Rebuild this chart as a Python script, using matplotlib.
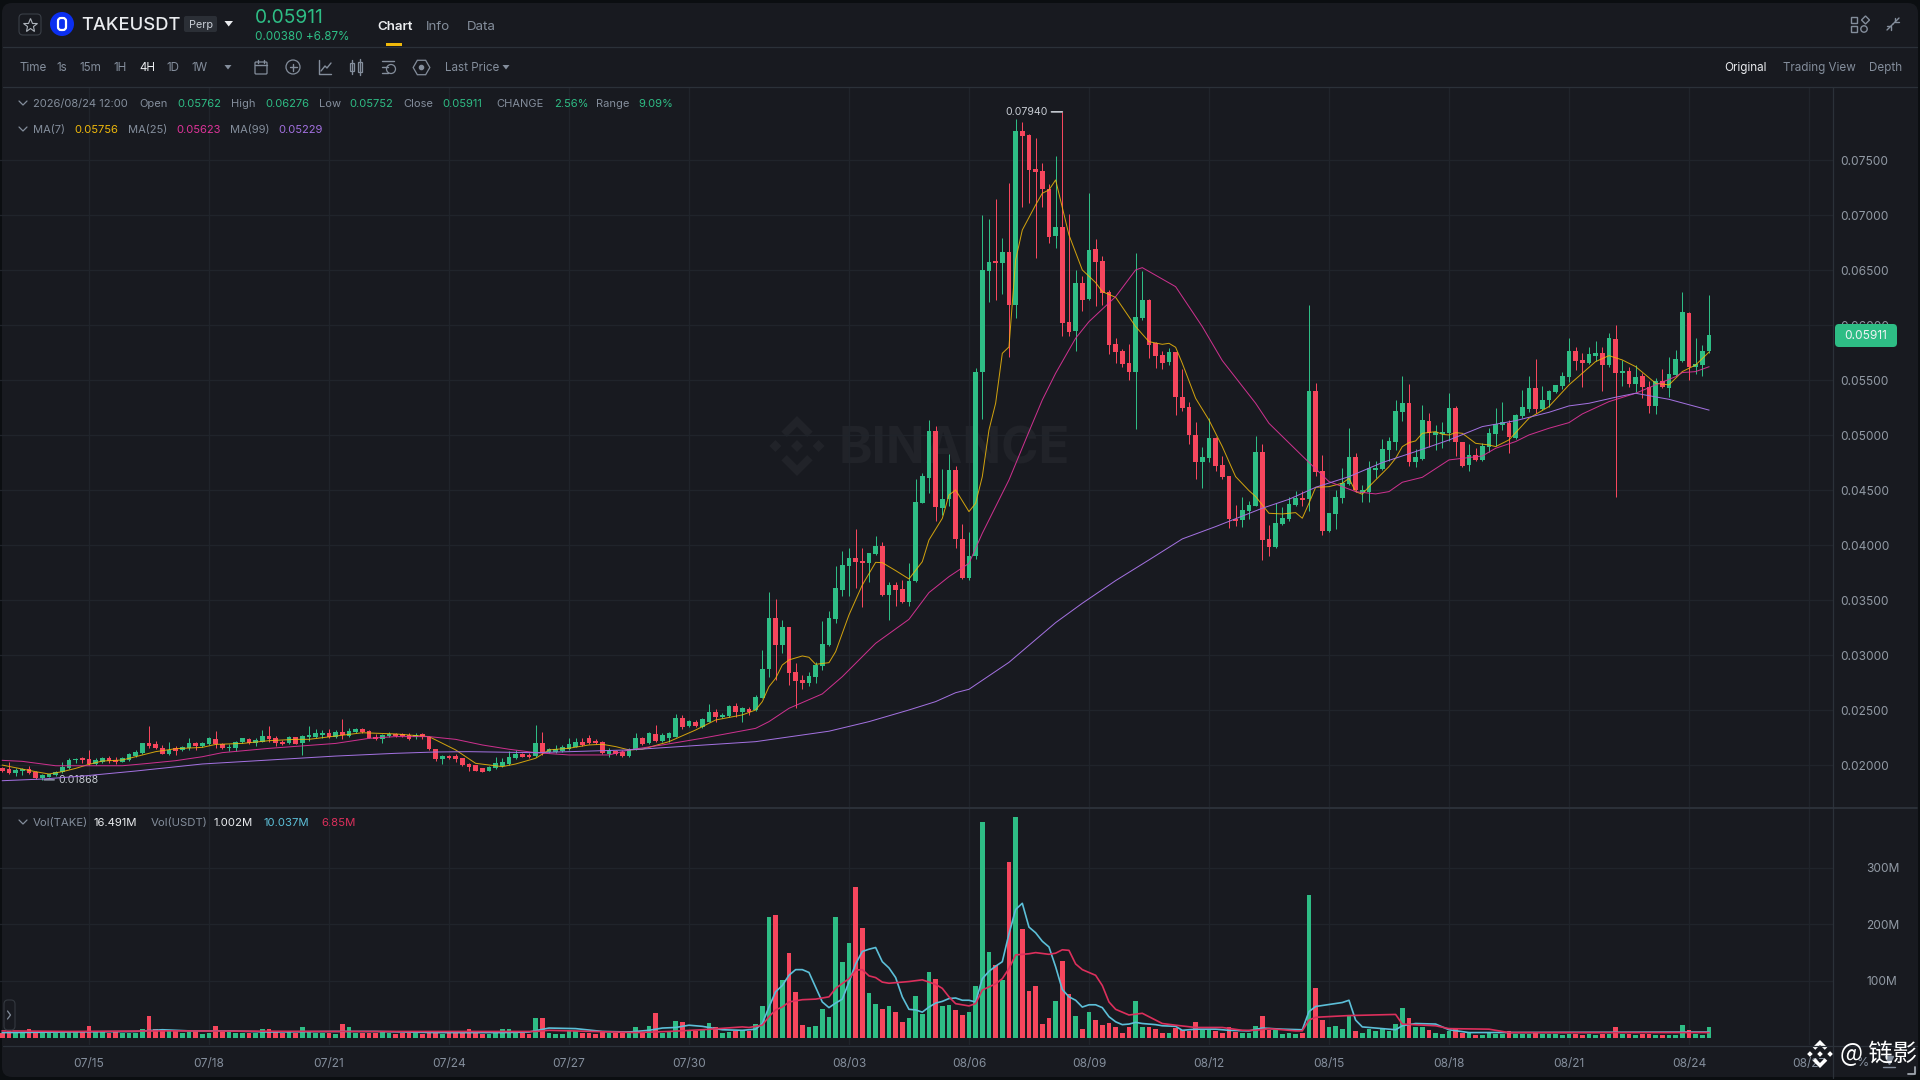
import matplotlib
matplotlib.use('Agg')
import matplotlib.pyplot as plt
import numpy as np
from matplotlib.patches import FancyBboxPatch, Polygon, Circle, Rectangle

plt.rcParams['font.family'] = ['Inter', 'Noto Sans CJK SC', 'DejaVu Sans']

# prices in 1e-5 USDT, one row per 10 candles (4H)
opens = [
    1972, 1963, 1927, 1948, 1966, 1942, 1881, 1896, 1912, 1936,
    1972, 2045, 2063, 2057, 2015, 2033, 2063, 2051, 2033, 2048,
    2084, 2109, 2199, 2193, 2160, 2099, 2154, 2139, 2157, 2199,
    2175, 2190, 2242, 2193, 2154, 2154, 2209, 2239, 2202, 2215,
    2266, 2245, 2212, 2199, 2254, 2199, 2254, 2257, 2275, 2293,
    2260, 2302, 2269, 2302, 2333, 2312, 2257, 2239, 2266, 2284,
    2282, 2276, 2255, 2282, 2261, 2146, 2058, 2085, 2085, 2064,
    2009, 2000, 1973, 1949, 1976, 1997, 2012, 2064, 2100, 2094,
    2085, 2200, 2124, 2124, 2133, 2146, 2170, 2209, 2249, 2224,
    2215, 2103, 2130, 2124, 2085, 2146, 2246, 2200, 2285, 2224,
    2246, 2261, 2427, 2358, 2397, 2352, 2397, 2488, 2436, 2449,
    2539, 2488, 2512, 2503, 2615, 2873, 3336, 3094, 3255, 2852,
    2776, 2745, 2800, 2906, 3094, 3327, 3594, 3815, 3882, 3858,
    3842, 3921, 3997, 3548, 3639, 3603, 3482, 3676, 4388, 4615,
    5039, 4342, 4418, 4685, 4061, 3700, 3903, 5576, 6497, 6582,
    6570, 6663, 6182, 7766, 7730, 7421, 7403, 7239, 6812, 6897,
    6027, 5945, 6382, 6236, 6691, 6585, 6300, 5827, 5770, 5654,
    5579, 6063, 6230, 5836, 5730, 5666, 5754, 5346, 5258, 5000,
    4761, 4797, 4973, 4730, 4630, 4243, 4231, 4315, 4361, 4852,
    4055, 3982, 4191, 4243, 4367, 4431, 4421, 5406, 4676, 4131,
    4282, 4431, 4555, 4803, 4479, 4488, 4685, 4694, 4867, 4943,
    5215, 5291, 4761, 4788, 5133, 5003, 5012, 5018, 5249, 4940,
    4730, 4818, 4776, 4897, 5012, 5091, 5115, 4973, 5176, 5236,
    5430, 5242, 5321, 5391, 5448, 5530, 5767, 5685, 5658, 5724,
    5745, 5636, 5876, 5570, 5585, 5467, 5539, 5442, 5267, 5497,
    5430, 5548, 5679, 6115, 5624, 5639, 5762]
highs = [
    1987, 2033, 1972, 1978, 1996, 1948, 1918, 1924, 1948, 2027,
    2063, 2069, 2072, 2139, 2063, 2078, 2087, 2075, 2078, 2115,
    2139, 2206, 2357, 2221, 2184, 2215, 2175, 2172, 2245, 2209,
    2215, 2254, 2312, 2205, 2190, 2224, 2251, 2251, 2245, 2321,
    2357, 2263, 2227, 2269, 2260, 2275, 2360, 2330, 2324, 2330,
    2321, 2421, 2342, 2336, 2339, 2318, 2281, 2281, 2299, 2290,
    2291, 2291, 2291, 2291, 2267, 2152, 2094, 2094, 2103, 2070,
    2018, 2003, 1979, 1994, 2073, 2064, 2133, 2140, 2115, 2109,
    2367, 2306, 2161, 2185, 2185, 2246, 2246, 2246, 2276, 2236,
    2224, 2155, 2140, 2140, 2161, 2291, 2255, 2306, 2367, 2291,
    2306, 2467, 2458, 2412, 2412, 2427, 2558, 2509, 2473, 2549,
    2564, 2533, 2527, 2639, 3048, 3579, 3512, 3321, 3261, 2927,
    2821, 2852, 2942, 3315, 3406, 3815, 3951, 3973, 4145, 3973,
    3933, 4085, 4027, 3670, 3670, 3685, 3836, 4600, 4654, 5139,
    5085, 4694, 4827, 4721, 4191, 4118, 5609, 7000, 6966, 7148,
    6791, 7291, 7878, 7845, 7739, 7700, 7472, 7282, 7539, 7940,
    7009, 6500, 6448, 7206, 6785, 6630, 6321, 5882, 5782, 5827,
    6654, 6494, 6239, 5851, 5767, 5791, 5760, 5600, 5300, 5118,
    4897, 5155, 4988, 4812, 4630, 4367, 4437, 4406, 4994, 4921,
    4185, 4382, 4346, 4437, 4494, 4494, 6185, 5473, 4821, 4297,
    4503, 4700, 5064, 4843, 4549, 4767, 4767, 4967, 4982, 5321,
    5539, 5467, 4876, 5276, 5200, 5094, 5124, 5382, 5270, 4943,
    4918, 4882, 4927, 5064, 5245, 5300, 5139, 5191, 5412, 5539,
    5691, 5448, 5412, 5458, 5579, 5882, 5800, 5745, 5806, 5861,
    5800, 5927, 6000, 5685, 5618, 5639, 5564, 5497, 5518, 5600,
    5709, 5776, 6306, 6118, 5882, 5821, 6276]
lows = [
    1936, 1918, 1903, 1912, 1918, 1875, 1868, 1890, 1906, 1927,
    1966, 2024, 2021, 2002, 2002, 2024, 2018, 2009, 2027, 2042,
    2072, 2102, 2154, 2151, 2099, 2093, 2093, 2133, 2139, 2139,
    2169, 2184, 2154, 2148, 2130, 2130, 2202, 2196, 2175, 2209,
    2209, 2172, 2187, 2193, 2190, 2093, 2221, 2245, 2245, 2245,
    2245, 2239, 2260, 2296, 2290, 2245, 2230, 2205, 2260, 2257,
    2255, 2230, 2236, 2236, 2140, 2043, 2012, 2055, 2033, 1997,
    1952, 1946, 1940, 1946, 1970, 1988, 2003, 2055, 2073, 2064,
    2073, 2094, 2109, 2115, 2124, 2140, 2164, 2176, 2194, 2191,
    2103, 2079, 2094, 2073, 2079, 2140, 2185, 2191, 2215, 2215,
    2215, 2255, 2327, 2352, 2352, 2337, 2391, 2397, 2427, 2443,
    2436, 2397, 2458, 2497, 2609, 2806, 2776, 3018, 2730, 2518,
    2691, 2721, 2745, 2867, 3085, 3297, 3539, 3542, 3615, 3436,
    3670, 3912, 3542, 3321, 3451, 3476, 3451, 3670, 4382, 4473,
    4224, 4276, 4357, 3973, 3691, 3685, 3873, 5148, 6215, 6230,
    6285, 5709, 6070, 7079, 7115, 6615, 7079, 6751, 6706, 5906,
    5903, 5770, 6127, 6230, 6176, 6185, 5736, 5660, 5624, 5503,
    5057, 6048, 5706, 5615, 5606, 5639, 5185, 5224, 4918, 4606,
    4521, 4761, 4679, 4600, 4161, 4179, 4170, 4240, 4358, 3867,
    3903, 3979, 4185, 4224, 4358, 4358, 4315, 4634, 4094, 4125,
    4149, 4388, 4549, 4488, 4397, 4397, 4609, 4685, 4767, 4867,
    5130, 4724, 4709, 4776, 4897, 4867, 4882, 4949, 4812, 4709,
    4679, 4770, 4770, 4852, 4906, 5049, 4843, 4967, 5155, 5215,
    5206, 5230, 5255, 5382, 5421, 5488, 5594, 5436, 5649, 5676,
    5406, 5624, 4443, 5452, 5442, 5397, 5336, 5206, 5194, 5430,
    5345, 5539, 5670, 5503, 5555, 5539, 5752]
closes = [
    1948, 1933, 1957, 1966, 1927, 1881, 1912, 1918, 1942, 1987,
    2048, 2060, 2045, 2009, 2045, 2066, 2042, 2033, 2063, 2099,
    2118, 2199, 2175, 2154, 2106, 2139, 2130, 2163, 2199, 2175,
    2202, 2245, 2190, 2154, 2169, 2215, 2245, 2202, 2230, 2266,
    2239, 2205, 2193, 2260, 2196, 2266, 2275, 2290, 2293, 2260,
    2305, 2275, 2309, 2333, 2299, 2251, 2236, 2275, 2287, 2263,
    2267, 2236, 2276, 2261, 2146, 2055, 2085, 2064, 2055, 2003,
    1988, 1952, 1943, 1988, 2018, 2033, 2079, 2103, 2079, 2073,
    2200, 2124, 2149, 2146, 2170, 2191, 2215, 2185, 2200, 2200,
    2109, 2140, 2100, 2085, 2149, 2246, 2194, 2291, 2224, 2276,
    2291, 2427, 2352, 2406, 2358, 2421, 2488, 2436, 2458, 2539,
    2488, 2518, 2488, 2624, 2873, 3336, 3094, 3255, 2842, 2767,
    2752, 2812, 2912, 3103, 3336, 3609, 3821, 3882, 3851, 3842,
    3927, 3997, 3548, 3639, 3594, 3482, 3679, 4394, 4630, 5039,
    4345, 4421, 4685, 4057, 3700, 3906, 5576, 6503, 6579, 6570,
    6663, 6188, 7769, 7721, 7412, 7397, 7239, 6806, 6897, 6024,
    5942, 6382, 6230, 6685, 6579, 6297, 5824, 5760, 5648, 5579,
    6079, 6230, 5821, 5724, 5660, 5754, 5351, 5252, 5003, 4761,
    4803, 4973, 4724, 4624, 4237, 4221, 4321, 4370, 4852, 4049,
    3988, 4200, 4252, 4373, 4434, 4412, 5406, 4664, 4134, 4291,
    4437, 4564, 4806, 4503, 4503, 4700, 4700, 4876, 4946, 5224,
    5291, 4758, 4803, 5136, 5018, 5027, 5030, 5249, 4943, 4721,
    4821, 4776, 4903, 5021, 5100, 5118, 4982, 5185, 5255, 5430,
    5242, 5321, 5403, 5458, 5542, 5767, 5676, 5661, 5742, 5745,
    5636, 5882, 5564, 5585, 5467, 5533, 5436, 5267, 5494, 5436,
    5558, 5691, 6121, 5624, 5645, 5767, 5911]

# volume in millions of TAKE
volumes = [
    8, 14, 9, 8, 15, 10, 9, 9, 8, 10,
    11, 10, 10, 21, 11, 10, 8, 10, 9, 9,
    8, 16, 38, 15, 13, 13, 12, 8, 10, 11,
    7, 9, 21, 12, 10, 9, 8, 9, 9, 15,
    15, 10, 9, 10, 8, 19, 11, 9, 8, 8,
    6, 25, 18, 9, 8, 9, 9, 11, 8, 7,
    8, 9, 8, 7, 9, 9, 7, 8, 8, 9,
    15, 9, 6, 6, 11, 15, 15, 10, 8, 7,
    34, 34, 8, 6, 7, 12, 12, 9, 9, 7,
    10, 9, 8, 8, 12, 18, 9, 21, 43, 9,
    12, 29, 28, 11, 11, 14, 26, 19, 9, 10,
    12, 13, 12, 24, 56, 212, 217, 101, 150, 81,
    22, 19, 20, 51, 36, 213, 134, 167, 265, 194,
    79, 59, 50, 56, 45, 27, 34, 73, 41, 116,
    104, 55, 58, 48, 40, 46, 91, 381, 151, 129,
    101, 310, 389, 191, 82, 91, 24, 35, 64, 136,
    77, 38, 16, 45, 32, 22, 26, 18, 9, 19,
    64, 19, 19, 15, 9, 9, 17, 14, 12, 27,
    13, 13, 12, 9, 18, 10, 9, 9, 20, 38,
    13, 13, 7, 8, 7, 9, 252, 87, 31, 19,
    21, 15, 40, 12, 9, 16, 12, 15, 11, 25,
    52, 35, 19, 18, 13, 8, 6, 11, 16, 8,
    9, 5, 5, 8, 7, 6, 12, 6, 7, 7,
    10, 7, 6, 6, 4, 6, 6, 5, 6, 5,
    6, 6, 19, 6, 6, 5, 6, 6, 5, 5,
    5, 4, 22, 14, 7, 5, 18]

# moving averages read at their turning points: candle index, value
ma7_idx = [0, 5, 7, 9, 11, 13, 15, 18, 20, 23, 26, 30, 32, 36, 40, 44, 46, 50, 54, 59, 64, 68, 71, 75, 77, 80, 82, 85, 88, 90,
           92, 94, 96, 100, 104, 107, 111, 113, 114, 115, 116, 117, 118, 120, 121, 122, 124, 125, 127, 129, 131, 132, 134, 136, 138, 139, 141, 142, 143, 145,
           146, 147, 148, 149, 150, 151, 152, 153, 155, 156, 157, 158, 160, 162, 164, 165, 167, 170, 172, 174, 175, 176, 177, 179, 181, 183, 185, 187, 188, 190,
           192, 194, 195, 196, 197, 199, 201, 202, 203, 204, 205, 208, 209, 210, 211, 212, 213, 215, 216, 217, 218, 219, 221, 223, 224, 226, 229, 232, 235, 237,
           239, 241, 243, 245, 248, 250, 252, 254, 256]
ma7 = [2002, 1942, 1921, 1942, 1972, 2009, 2039, 2048, 2078, 2124, 2151, 2163, 2190, 2199, 2224, 2236, 2236, 2266, 2296, 2285, 2261, 2140, 2018, 1988, 2012, 2064, 2140, 2155, 2185, 2191,
       2170, 2140, 2146, 2215, 2321, 2412, 2458, 2503, 2579, 2715, 2791, 2912, 2958, 2994, 2982, 2918, 2933, 3033, 3367, 3639, 3845, 3842, 3770, 3694, 3851, 4048, 4245, 4457, 4503, 4306,
       4382, 4624, 5048, 5291, 5745, 5803, 6594, 6866, 7094, 7200, 7230, 7321, 6821, 6503, 6388, 6306, 6254, 5988, 5851, 5827, 5836, 5800, 5654, 5336, 5139, 4897, 4624, 4497, 4443, 4291,
       4285, 4297, 4246, 4382, 4527, 4533, 4564, 4609, 4488, 4464, 4533, 4715, 4791, 4897, 4933, 4949, 5018, 5033, 5009, 5003, 5024, 5018, 4927, 4912, 4897, 4958, 5155, 5261, 5458, 5564,
       5670, 5724, 5685, 5624, 5473, 5458, 5579, 5639, 5756]
ma25_idx = [0, 3, 8, 13, 18, 22, 26, 30, 33, 40, 50, 55, 59, 64, 68, 72, 76, 80, 85, 91, 94, 99, 105, 109, 113, 115, 118, 123, 126, 131,
            136, 139, 142, 145, 147, 151, 154, 156, 158, 161, 163, 167, 170, 171, 176, 180, 183, 188, 190, 195, 199, 203, 206, 208, 210, 213, 217, 222, 224, 227,
            229, 232, 235, 237, 241, 245, 248, 251, 252, 254, 256]
ma25 = [2045, 2036, 1996, 1996, 1996, 2018, 2042, 2078, 2115, 2154, 2199, 2245, 2261, 2261, 2236, 2185, 2146, 2115, 2094, 2094, 2140, 2185, 2246, 2291, 2336, 2397, 2518, 2649, 2806, 3109,
        3327, 3570, 3715, 3836, 4109, 4594, 5033, 5321, 5564, 5882, 6033, 6260, 6503, 6524, 6351, 5988, 5679, 5291, 5109, 4812, 4579, 4488, 4467, 4488, 4573, 4618, 4776, 4812, 4882, 4943,
        5003, 5064, 5115, 5194, 5306, 5382, 5458, 5533, 5570, 5579, 5623]
ma99_idx = [0, 6, 12, 20, 30, 40, 50, 59, 65, 70, 80, 94, 113, 124, 130, 136, 140, 143, 145, 151, 158, 162, 167, 172, 177, 182, 189, 193, 197, 202,
            207, 212, 217, 222, 227, 232, 235, 238, 242, 245, 250, 256]
ma99 = [1860, 1875, 1902, 1948, 2012, 2048, 2084, 2109, 2121, 2124, 2115, 2140, 2215, 2310, 2397, 2503, 2579, 2660, 2691, 2936, 3297, 3473, 3679, 3867, 4058, 4170, 4337, 4418, 4527, 4624,
        4752, 4852, 4957, 5079, 5133, 5209, 5267, 5291, 5346, 5382, 5327, 5229]

vol_ma_a_idx = [0, 10, 20, 24, 28, 34, 40, 50, 56, 65, 75, 79, 82, 86, 90, 94, 97, 99, 101, 103, 105, 108, 111, 113, 114, 115, 116, 117, 118, 119,
                120, 121, 122, 123, 124, 125, 126, 127, 128, 129, 130, 131, 132, 133, 134, 135, 136, 137, 138, 139, 140, 141, 142, 143, 144, 145, 146, 147, 148, 149,
                150, 151, 152, 153, 154, 155, 156, 157, 158, 159, 160, 161, 162, 163, 164, 165, 166, 167, 168, 169, 170, 171, 172, 173, 174, 176, 177, 179, 182, 184,
                187, 189, 192, 195, 196, 197, 201, 202, 203, 204, 209, 210, 212, 215, 217, 220, 256]
vol_ma_a = [9, 10, 11, 14, 12, 12, 10, 11, 11, 9, 9, 10, 17, 16, 11, 10, 13, 17, 18, 22, 20, 14, 13, 15, 25, 54, 81, 92, 110, 120,
            120, 115, 89, 63, 53, 61, 68, 98, 130, 152, 156, 159, 134, 123, 106, 72, 50, 49, 45, 54, 61, 64, 69, 70, 66, 66, 63, 104, 117, 126,
            134, 183, 226, 237, 195, 185, 170, 160, 125, 85, 72, 66, 54, 58, 58, 53, 37, 28, 23, 24, 27, 25, 24, 23, 21, 20, 13, 15, 15, 13,
            12, 17, 15, 14, 46, 55, 62, 66, 31, 19, 14, 21, 25, 24, 14, 9, 10]
vol_ma_b_idx = [0, 10, 25, 50, 80, 82, 95, 100, 105, 111, 112, 114, 115, 116, 117, 118, 120, 122, 124, 125, 127, 128, 129, 130, 131, 132, 133, 136, 138, 140,
                141, 142, 143, 145, 146, 147, 149, 150, 151, 152, 154, 155, 157, 158, 159, 160, 161, 162, 164, 165, 166, 167, 169, 171, 172, 174, 176, 179, 183, 186,
                188, 190, 194, 195, 196, 197, 202, 209, 210, 215, 217, 223, 226, 256]
vol_ma_b = [12, 11, 12, 11, 11, 13, 9, 11, 14, 19, 18, 22, 37, 49, 54, 63, 67, 68, 72, 87, 104, 119, 120, 109, 106, 98, 96, 99, 102, 94,
            87, 72, 60, 56, 60, 84, 95, 104, 122, 146, 148, 150, 147, 149, 155, 154, 130, 120, 110, 92, 63, 50, 40, 43, 37, 25, 22, 18, 18, 13,
            13, 16, 12, 12, 31, 36, 39, 41, 24, 21, 16, 15, 9, 9]

date_idx = [13, 31, 49, 67, 85, 103, 127, 145, 163, 181, 199, 217, 235, 253, 271]
date_labels = ['07/15', '07/18', '07/21', '07/24', '07/27', '07/30', '08/03', '08/06', '08/09', '08/12', '08/15', '08/18', '08/21', '08/24', '08/27']
price_ticks = [0.020, 0.025, 0.030, 0.035, 0.040, 0.045, 0.050, 0.055, 0.060, 0.065, 0.070, 0.075]
vol_ticks = [100, 200, 300]

BG = '#181a20'
GRID = '#20242b'
BORDER = '#2b3139'
UP = '#2ebd85'
DOWN = '#f6465d'
MUTED = '#848e9c'
LABEL = '#929aa5'
WHITE = '#eaecef'
YELLOW = '#f0b90b'
PINK = '#e0339a'
PURPLE = '#a371e0'
CYAN = '#5cbfd8'
RED_MA = '#dc2f5c'

o = np.array(opens) / 1e5
h = np.array(highs) / 1e5
l = np.array(lows) / 1e5
c = np.array(closes) / 1e5
idx = np.arange(len(o))
cols = [UP if b >= a else DOWN for a, b in zip(o, c)]

W, H = 1920, 1080
fig = plt.figure(figsize=(19.2, 10.8), dpi=100, facecolor='#0b0e11')


def axes_px(x0, y0, x1, y1, z):
    a = fig.add_axes([x0 / W, 1 - y1 / H, (x1 - x0) / W, (y1 - y0) / H], zorder=z)
    a.patch.set_alpha(0)
    return a


def logo(a, cx, cy, s, color):
    # binance mark, s = half size
    for dx, dy in [(0, 0), (-0.72, 0), (0.72, 0)]:
        r = 0.2
        a.add_patch(Polygon([(cx + (dx - r) * s, cy + dy * s), (cx + dx * s, cy - r * s),
                             (cx + (dx + r) * s, cy), (cx + dx * s, cy + r * s)], color=color, lw=0))
    for sgn in [-1, 1]:
        a.add_patch(Polygon([(cx, cy + sgn * s), (cx + 0.52 * s, cy + sgn * 0.48 * s), (cx + 0.34 * s, cy + sgn * 0.3 * s),
                             (cx, cy + sgn * 0.64 * s), (cx - 0.34 * s, cy + sgn * 0.3 * s), (cx - 0.52 * s, cy + sgn * 0.48 * s)],
                            color=color, lw=0))


# background layer
back = axes_px(0, 0, W, H, 0)
back.set_xlim(0, W)
back.set_ylim(H, 0)
back.axis('off')
back.add_patch(FancyBboxPatch((12, 13), W - 24, H - 26, boxstyle='round,pad=10,rounding_size=10', fc=BG, ec='none'))
logo(back, 797, 446, 30, '#212329')
back.text(954, 450, 'BINANCE', color='#212329', fontsize=36.5, fontweight='bold', ha='center', va='center')

# price panel
ax = axes_px(0, 87, 1833, 807, 2)
step = 120 / 18
xlim = ((0 - 2.3) / step, (1833 - 2.3) / step)
ax.set_xlim(xlim)
ax.set_ylim(0.01621, 0.08166)
for s in ax.spines.values():
    s.set_visible(False)
ax.set_xticks(date_idx)
ax.set_xticklabels([])
ax.set_yticks(price_ticks)
ax.set_yticklabels(['%.5f' % v for v in price_ticks])
ax.yaxis.tick_right()
ax.tick_params(axis='y', length=0, pad=5, labelsize=8.6, labelcolor=LABEL)
ax.tick_params(axis='x', length=0)
ax.grid(True, color=GRID, lw=0.9)
ax.set_axisbelow(True)
ax.vlines(idx, l, h, colors=cols, lw=0.72, zorder=2)
ax.bar(idx, np.abs(c - o), bottom=np.minimum(o, c), width=0.7, color=cols, lw=0, zorder=3)
ax.plot(ma7_idx, np.array(ma7) / 1e5, color=YELLOW, lw=0.72, alpha=0.85, zorder=4)
ax.plot(ma25_idx, np.array(ma25) / 1e5, color=PINK, lw=0.72, alpha=0.9, zorder=4)
ax.plot(ma99_idx, np.array(ma99) / 1e5, color=PURPLE, lw=0.72, zorder=4)
ax.annotate('0.07940', xy=(159, 0.0794), xytext=(-15, 0), textcoords='offset pixels', ha='right', va='center',
            color='#c7ccd3', fontsize=7.6, arrowprops=dict(arrowstyle='-', color='#c7ccd3', lw=1.2, shrinkA=1, shrinkB=0))
ax.annotate('0.01868', xy=(6.3, 0.01868), xytext=(14, 0), textcoords='offset pixels', ha='left', va='center',
            color='#c7ccd3', fontsize=7.6, arrowprops=dict(arrowstyle='-', color='#848e9c', lw=1.2, shrinkA=1, shrinkB=0))

# volume panel
vax = axes_px(0, 808, 1833, 1045, 2)
vax.set_xlim(xlim)
vax.set_ylim(-12.9, 405)
for s in vax.spines.values():
    s.set_visible(False)
vax.set_xticks(date_idx)
vax.set_xticklabels(date_labels)
vax.set_yticks(vol_ticks)
vax.set_yticklabels(['%dM' % v for v in vol_ticks])
vax.yaxis.tick_right()
vax.tick_params(axis='y', length=0, pad=24, labelsize=8.6, labelcolor=LABEL)
vax.tick_params(axis='x', length=0, pad=9, labelsize=8.6, labelcolor=MUTED)
for t in vax.get_yticklabels():
    t.set_ha('left')
vax.grid(True, color=GRID, lw=0.9)
vax.set_axisbelow(True)
vax.bar(idx, volumes, width=0.68, color=cols, lw=0, zorder=3)
vax.plot(vol_ma_a_idx, vol_ma_a, color=CYAN, lw=1.2, zorder=4)
vax.plot(vol_ma_b_idx, vol_ma_b, color=RED_MA, lw=1.2, zorder=4)

# chrome on top
ui = axes_px(0, 0, W, H, 5)
ui.set_xlim(0, W)
ui.set_ylim(H, 0)
ui.axis('off')


def txt(x, y, s, color=MUTED, size=8.6, ha='left', **kw):
    ui.text(x, y + 1, s, color=color, fontsize=size, ha=ha, va='center', **kw)


def seg(xs, ys, color=MUTED, lw=1.0):
    ui.plot(xs, ys, color=color, lw=lw, solid_capstyle='round')


for y in [46.5, 86.5]:
    seg([3, 1917], [y, y], BORDER, 0.9)
seg([1833, 1833], [87, 1078], BORDER, 0.9)
seg([3, 1917], [807.5, 807.5], '#2f353e', 1.2)
seg([3, 1917], [1045.5, 1045.5], BORDER, 0.9)

# header
ui.add_patch(FancyBboxPatch((19, 14), 22, 21, boxstyle='round,pad=0,rounding_size=4', fc='none', ec='#3a3f47', lw=0.8))
ui.plot([30], [24.5], marker='*', ms=10, mfc='none', mec='#aeb4bc', mew=0.8)
ui.add_patch(Circle((62, 24), 12, color='#0b2ff0', lw=0))
ui.add_patch(FancyBboxPatch((58, 18), 8, 12, boxstyle='round,pad=0,rounding_size=3', fc='none', ec='white', lw=1.6))
txt(81, 25, 'TAKEUSDT', WHITE, 13.2, fontweight='medium')
ui.add_patch(FancyBboxPatch((184, 16), 33, 16, boxstyle='round,pad=0,rounding_size=2', fc='#2b2f36', ec='none'))
txt(200.5, 24, 'Perp', '#c9ced6', 7.8, ha='center')
ui.add_patch(Polygon([(224.5, 21), (233, 21), (228.7, 26.5)], color=WHITE, lw=0))
txt(255, 17, '0.05911', UP, 13.8)
txt(255, 36, '0.00380 +6.87%', UP, 8.4)
txt(377, 26, 'Chart', WHITE, 9.6, fontweight='semibold')
txt(438, 26, 'Info', MUTED, 9.6, ha='center')
txt(467, 26, 'Data', MUTED, 9.6)
ui.add_patch(Rectangle((386, 43), 16, 3, color=YELLOW, lw=0))

# toolbar
for x, s, col in [(19, 'Time', MUTED), (56, '1s', MUTED), (79, '15m', MUTED), (113, '1H', MUTED), (139, '4H', WHITE),
                  (166, '1D', MUTED), (191, '1W', MUTED), (445, 'Last Price', MUTED)]:
    txt(x, 67, s, col, 8.4)
for x in [228, 506]:
    ui.add_patch(Polygon([(x - 3.5, 65), (x + 3.5, 65), (x, 69.5)], color=MUTED, lw=0))
ui.add_patch(FancyBboxPatch((255, 62), 12, 12, boxstyle='round,pad=0,rounding_size=1', fc='none', ec=MUTED, lw=0.9))
seg([255, 267], [65, 65])
seg([258, 258], [60, 63])
seg([264, 264], [60, 63])
ui.add_patch(Circle((293, 67), 7, fc='none', ec=MUTED, lw=0.9))
seg([289.5, 296.5], [67, 67])
seg([293, 293], [63.5, 70.5])
seg([319, 319, 331], [60, 74, 74])
seg([321, 325, 327, 331], [71, 66, 68, 63])
for x, y0, y1 in [(352, 63, 71), (360, 62, 72)]:
    ui.add_patch(Rectangle((x - 2, y0), 4, y1 - y0, fc='none', ec=MUTED, lw=0.9))
    seg([x, x], [y0 - 3, y1 + 3])
seg([382, 394], [61, 61])
seg([382, 388], [67, 67])
seg([382, 388], [73, 73])
ui.add_patch(Circle((391, 69), 4.5, fc='none', ec=MUTED, lw=0.9))
ui.plot([421], [67], marker='H', ms=12, mfc='none', mec=MUTED, mew=0.9)
ui.plot([421], [67], marker='o', ms=3, color=MUTED)

txt(1724, 67, 'Original', WHITE, 8.4)
txt(1783, 67, 'Trading View', MUTED, 8.4)
txt(1869, 67, 'Depth', MUTED, 8.4)
# icons top right
for rx, ry in [(1853, 17), (1853, 26)]:
    ui.add_patch(Rectangle((rx - 2, ry), 6, 6, fc='none', ec=MUTED, lw=1.0))
ui.add_patch(Circle((1864, 29), 3.2, fc='none', ec=MUTED, lw=1.0))
ui.add_patch(Polygon([(1861.5, 20), (1865.5, 16), (1869.5, 20), (1865.5, 24)], fc='none', ec=MUTED, lw=1.0))
seg([1887, 1893], [30, 24])
seg([1893, 1899], [24, 18])
seg([1887, 1891, 1891], [26, 26, 30])
seg([1895, 1895, 1899], [18, 22, 22])


def chevron(x, y):
    seg([x - 4, x, x + 4], [y - 2, y + 2, y - 2], MUTED, 0.9)


# legend lines
chevron(23, 103)
for x, s, col in [(33, '2026/08/24 12:00', MUTED), (139, 'Open', MUTED), (177, '0.05762', UP), (231, 'High', MUTED),
                  (265, '0.06276', UP), (319, 'Low', MUTED), (349, '0.05752', UP), (403, 'Close', MUTED),
                  (442, '0.05911', UP), (496, 'CHANGE', MUTED), (554, '2.56%', UP), (596, 'Range', MUTED), (638, '9.09%', UP)]:
    txt(x, 103, s, col, 8.0)
chevron(23, 129)
for x, s, col in [(33, 'MA(7)', MUTED), (74, '0.05756', YELLOW), (128, 'MA(25)', MUTED), (176, '0.05623', PINK),
                  (230, 'MA(99)', MUTED), (278, '0.05229', PURPLE)]:
    txt(x, 129, s, col, 8.0)
chevron(23, 822)
for x, s, col in [(33, 'Vol(TAKE)', MUTED), (94, '16.491M', WHITE), (151, 'Vol(USDT)', MUTED), (214, '1.002M', WHITE),
                  (264, '10.037M', CYAN), (321, '6.85M', RED_MA)]:
    txt(x, 822, s, col, 8.2)

# last price tag
ui.add_patch(FancyBboxPatch((1835, 324), 62, 23, boxstyle='round,pad=0,rounding_size=4', fc=UP, ec='none'))
txt(1865.5, 335, '0.05911', '#eef2f4', 8.6, ha='center')

# side handle, bottom corner
ui.add_patch(FancyBboxPatch((4, 1000), 11, 30, boxstyle='round,pad=0,rounding_size=4', fc=BG, ec='#33383f', lw=0.8))
seg([7.5, 10.5, 7.5], [1011, 1015, 1019], MUTED, 0.9)
txt(1863, 1062, '%', MUTED, 9.0, ha='center')
seg([1883, 1895], [1067, 1067])
ui.plot([1889], [1060], marker='v', ms=6, color=MUTED)
seg([1908, 1915, 1915], [1074, 1074, 1067], '#a0a6ae', 1.3)

# overlay signature
logo(ui, 1820, 1054, 14, 'white')
txt(1840, 1053, '@ 链影', 'white', 17.5, family=['Noto Sans CJK SC', 'DejaVu Sans'])

fig.savefig('out.png', dpi=100, facecolor=fig.get_facecolor())
